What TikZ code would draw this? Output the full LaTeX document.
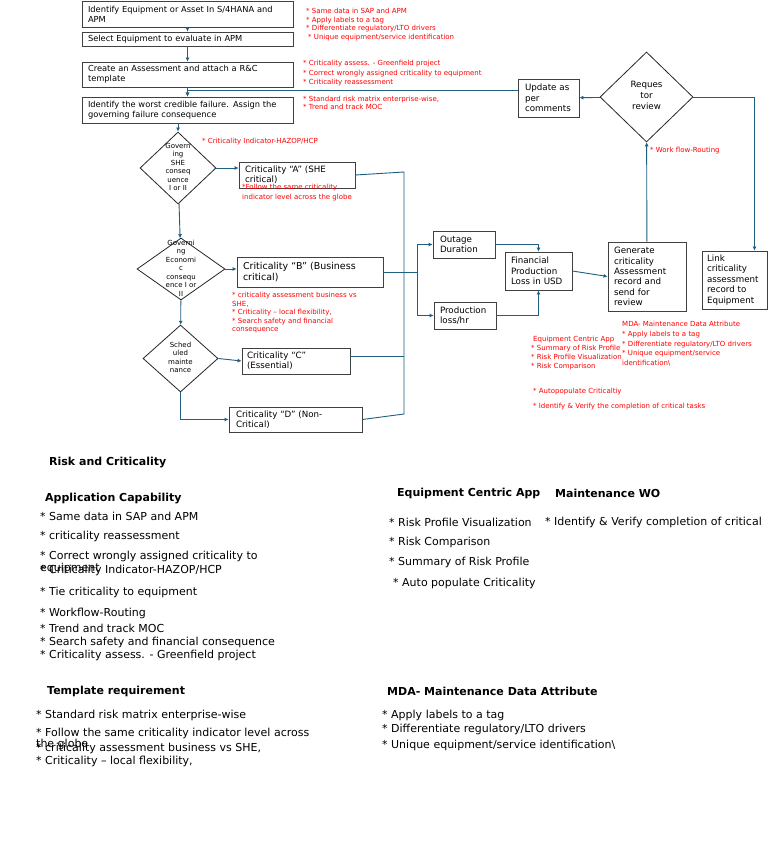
\documentclass[tikz,border=0pt]{standalone}
\usepackage{fontspec}
\setmainfont{DejaVu Sans}
\usetikzlibrary{arrows.meta, shapes.geometric}
\definecolor{flowblue}{RGB}{31,95,128}
\newcommand{\dtext}[1]{\parbox[c][0pt][c]{44pt}{\centering #1}}

\tikzset{
  blk/.style={draw=black!75, line width=0.8pt, rectangle, align=left, inner sep=0pt, font=\fontsize{8.7}{10.4}\selectfont},
  decision/.style={draw=black!85, line width=0.8pt, diamond, inner sep=0pt, font=\fontsize{7}{8.5}\selectfont},
  flow/.style={draw=flowblue, line width=0.9pt, -{Latex[length=4pt,width=4pt]}},
  bus/.style={draw=flowblue, line width=0.9pt},
  note/.style={text=red, font=\fontsize{7}{8.5}\selectfont, align=left, inner sep=0pt},
  txt/.style={font=\fontsize{11}{13}\selectfont, align=left, inner sep=0pt},
  head/.style={font=\fontsize{11}{13}\selectfont\bfseries, inner sep=0pt, anchor=west},
}

\begin{document}
\begin{tikzpicture}[x=1pt, y=-1pt]
	\fill[white] (0,0) rectangle (768,866);
	\useasboundingbox (0,0) rectangle (768,866);

	\node[blk, font=\fontsize{8.3}{10}\selectfont, minimum width=211pt, minimum height=26pt, text width=199pt] (equip) at (187.5,14) {Identify Equipment or Asset In S/4HANA and\\APM};
	\node[blk, font=\fontsize{8.3}{10}\selectfont, minimum width=211pt, minimum height=14pt, text width=199pt] (select) at (187.5,39) {Select Equipment to evaluate in APM};
	\node[blk, font=\fontsize{8.3}{10}\selectfont, minimum width=211pt, minimum height=25pt, text width=199pt] (create) at (187.5,74.5) {Create an Assessment and attach a R\&C\\template};
	\node[blk, font=\fontsize{8.3}{10}\selectfont, minimum width=211pt, minimum height=26pt, text width=199pt] (worst) at (187.5,110) {Identify the worst credible failure. Assign the\\governing failure consequence};

	\node[decision, minimum width=76pt, minimum height=72pt] (she) at (178,168) {\dtext{Govern\\ing\\SHE\\conseq\\uence\\I or II}};
	\node[decision, minimum width=88pt, minimum height=62pt] (econ) at (181,269) {\dtext{Governi\\ng\\Economi\\c\\consequ\\ence I or\\II}};
	\node[decision, minimum width=75pt, minimum height=67pt] (sched) at (180.5,358.5) {\dtext{Sched\\uled\\mainte\\nance}};
	\node[decision, minimum width=93pt, minimum height=90pt, font=\fontsize{8.7}{11}\selectfont] (review) at (646.5,97) {\dtext{Reques\\tor\\review}};

	\node[blk, minimum width=116pt, minimum height=26pt, text width=104pt] (critA) at (297,175) {Criticality “A” (SHE\\critical)};
	\node[blk, font=\fontsize{9.5}{11}\selectfont, minimum width=146pt, minimum height=30pt, text width=134pt] (critB) at (310,272) {Criticality “B” (Business\\critical)};
	\node[blk, minimum width=108pt, minimum height=26pt, text width=98pt] (critC) at (296,361) {Criticality “C”\\(Essential)};
	\node[blk, minimum width=133pt, minimum height=25pt, text width=119pt] (critD) at (295.5,419.5) {Criticality “D” (Non-\\Critical)};

	\node[blk, minimum width=62pt, minimum height=27pt, text width=48pt] (outage) at (464,244.5) {Outage\\Duration};
	\node[blk, minimum width=62pt, minimum height=27pt, text width=50pt] (prodloss) at (465,315.5) {Production\\loss/hr};
	\node[blk, minimum width=67pt, minimum height=38pt, text width=55pt] (fin) at (538.5,271) {Financial\\Production\\Loss in USD};
	\node[blk, minimum width=78pt, minimum height=69pt, text width=66pt] (gen) at (647,276.5) {Generate\\criticality\\Assessment\\record and\\send for\\review};
	\node[blk, minimum width=65pt, minimum height=58pt, text width=55pt] (link) at (734.5,280) {Link\\criticality\\assessment\\record to\\Equipment};
	\node[blk, minimum width=61pt, minimum height=38pt, text width=47pt] (update) at (548.5,98) {Update as\\per\\comments};

	\draw[flow] (equip) -- (select);
	\draw[flow] (select) -- (create);
	\draw[flow] (create) -- (worst);
	\draw[flow] ([yshift=8pt]update.west) -| (worst.north);
	\draw[flow] (worst.south -| she.north) -- (she.north);
	\draw[flow] (she.east) -- (she.east -| critA.west);
	\draw[flow] (she) -- (econ);
	\draw[flow] (econ.east) -- (econ.east -| critB.west);
	\draw[flow] (econ) -- (sched);
	\draw[flow] (sched.east) -- (critC.west);
	\draw[flow] (sched.south) |- (critD.west);

	\coordinate (busTop) at (404,172);
	\coordinate (busBot) at (404,414);
	\coordinate (split) at (417,272);
	\draw[bus] (critA.east) -- (busTop) -- (busBot) -- (critD.east);
	\draw[bus] ([yshift=5pt]critC.east) -- ([yshift=5pt]critC.east -| busTop);
	\draw[bus] (critB.east) -- (split);
	\draw[flow] (split) |- (outage.west);
	\draw[flow] (split) |- (prodloss.west);
	\draw[flow, line width=1.4pt] (outage.east) -| (fin.north);
	\draw[flow, line width=1.4pt] (prodloss.east) -| (fin.south);
	\draw[flow] (fin.east) -- (gen.west);
	\draw[flow] (gen) -- (review);
	\draw[flow] (review) -- (update);
	\draw[flow] (review.east) -| ([xshift=20pt]link.north);

	\node[note, anchor=north west] (nSap) at (306,8) {* Same data in SAP and APM\\* Apply labels to a tag\\* Differentiate regulatory/LTO drivers\\\hspace{2pt}* Unique equipment/service identification};
	\node[note, anchor=north west, font=\fontsize{7}{9.7}\selectfont] (nAssess) at (303,60) {* Criticality assess. - Greenfield project\\* Correct wrongly assigned criticality to equipment\\* Criticality reassessment};
	\node[note, anchor=north west, font=\fontsize{7}{8}\selectfont] (nMatrix) at (303,95.6) {* Standard risk matrix enterprise-wise,\\* Trend and track MOC};
	\node[note, anchor=west] (nHazop) at (202,142) {* Criticality Indicator-HAZOP/HCP};
	\node[note, anchor=north west, font=\fontsize{7}{10}\selectfont] (nFollow) at (242,184.3) {*Follow the same criticality\\indicator level across the globe};
	\node[note, anchor=north west] (nBusiness) at (232,292.3) {* criticality assessment business vs\\SHE,\\* Criticality – local flexibility,\\* Search safety and financial\\consequence};
	\node[note, anchor=west] (nRouting) at (650,151) {* Work flow-Routing};
	\node[note, anchor=north west, font=\fontsize{7}{9.6}\selectfont] (nMda) at (622,321.3) {MDA- Maintenance Data Attribute\\* Apply labels to a tag\\* Differentiate regulatory/LTO drivers\\* Unique equipment/service\\identification\textbackslash};
	\node[note, anchor=north west, font=\fontsize{7}{9}\selectfont] (nEca) at (531,336.3) {\hspace{2pt}Equipment Centric App\\* Summary of Risk Profile\\* Risk Profile Visualization\\* Risk Comparison};
	\node[note, anchor=west] (nAuto) at (533,392) {* Autopopulate Criticaltiy};
	\node[note, anchor=west] (nTasks) at (533,407) {* Identify \& Verify the completion of critical tasks};

	\node[head] (hRisk) at (49,463) {Risk and Criticality};
	\node[head] (hApp) at (45,499) {Application Capability};
	\node[txt, anchor=west] (app1) at (40,516) {* Same data in SAP and APM};
	\node[txt, anchor=west] (app2) at (40,536) {* criticality reassessment};
	\node[txt, anchor=north west, font=\fontsize{11}{12.5}\selectfont] (app3) at (40,550.6) {* Correct wrongly assigned criticality to\\equipment};
	\node[txt, anchor=west] (app4) at (40,570) {* Criticality Indicator-HAZOP/HCP};
	\node[txt, anchor=west] (app5) at (40,592) {* Tie criticality to equipment};
	\node[txt, anchor=west] (app6) at (40,613) {* Workflow-Routing};
	\node[txt, anchor=west] (app7) at (40,628) {* Trend and track MOC};
	\node[txt, anchor=west] (app8) at (40,642) {* Search safety and financial consequence};
	\node[txt, anchor=west] (app9) at (40,655) {* Criticality assess. - Greenfield project};

	\node[head] (hEca) at (397,493) {Equipment Centric App};
	\node[head] (hWo) at (555,493) {Maintenance WO};
	\node[txt, anchor=west] (eca1) at (389,522) {* Risk Profile Visualization};
	\node[txt, anchor=west] (wo1) at (545,522) {* Identify \& Verify completion of critical};
	\node[txt, anchor=west] (eca2) at (389,542) {* Risk Comparison};
	\node[txt, anchor=west] (eca3) at (389,562) {* Summary of Risk Profile};
	\node[txt, anchor=west] (eca4) at (393,583) {* Auto populate Criticality};

	\node[head] (hTpl) at (47,691) {Template requirement};
	\node[txt, anchor=west] (tpl1) at (36,715) {* Standard risk matrix enterprise-wise};
	\node[txt, anchor=north west, font=\fontsize{11}{11.5}\selectfont] (tpl2) at (36,727.6) {* Follow the same criticality indicator level across\\the globe};
	\node[txt, anchor=west] (tpl3) at (36,748) {* criticality assessment business vs SHE,};
	\node[txt, anchor=west] (tpl4) at (36,761) {* Criticality – local flexibility,};

	\node[head] (hMda) at (387,691) {MDA- Maintenance Data Attribute};
	\node[txt, anchor=west] (mda1) at (382,715) {* Apply labels to a tag};
	\node[txt, anchor=west] (mda2) at (382,729) {* Differentiate regulatory/LTO drivers};
	\node[txt, anchor=west] (mda3) at (382,745) {* Unique equipment/service identification\textbackslash};
\end{tikzpicture}
\end{document}
